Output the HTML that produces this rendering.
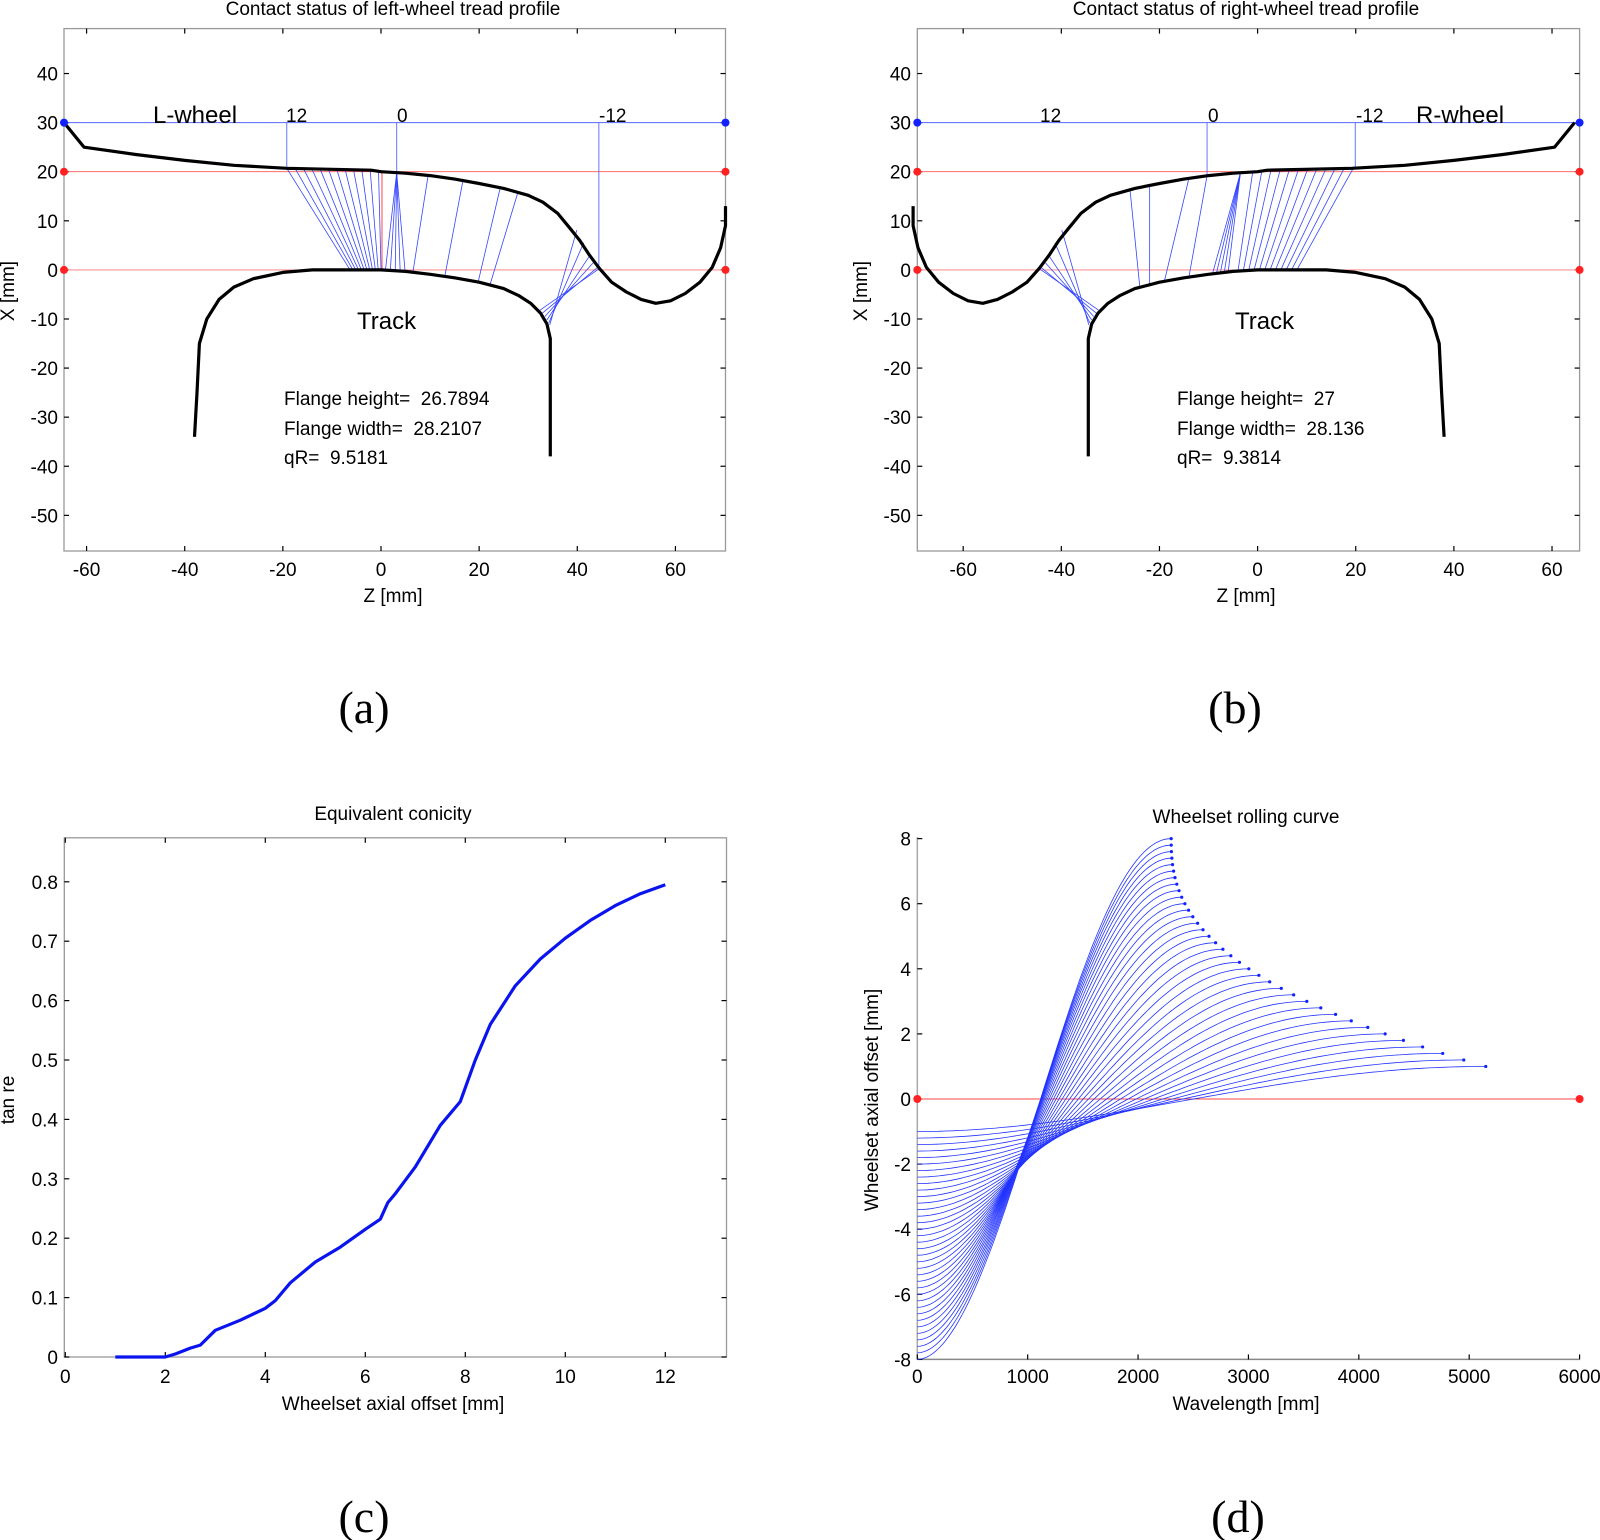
<!DOCTYPE html>
<html><head><meta charset="utf-8"><style>
body{margin:0;background:#fff}
svg{display:block}
text{font-family:"Liberation Sans",Arial,sans-serif;fill:#000}
.t{font-size:19px}
.tk{font-size:19px}
.ser{font-family:"Liberation Serif","Times New Roman",serif;font-size:46px}
</style></head><body>
<svg id="s" width="1600" height="1540" viewBox="0 0 1600 1540" xmlns="http://www.w3.org/2000/svg">
<g id="plot"></g>
<text class="t" x="393" y="15" text-anchor="middle">Contact status of left-wheel tread profile</text>
<text class="t" x="1246" y="15" text-anchor="middle">Contact status of right-wheel tread profile</text>
<text class="t" x="393" y="820" text-anchor="middle">Equivalent conicity</text>
<text class="t" x="1246" y="823" text-anchor="middle">Wheelset rolling curve</text>
<g class="tk" text-anchor="middle">
<text x="86.6" y="576">-60</text><text x="184.7" y="576">-40</text><text x="282.9" y="576">-20</text><text x="381" y="576">0</text><text x="479.1" y="576">20</text><text x="577.3" y="576">40</text><text x="675.4" y="576">60</text>
<text x="963.2" y="576">-60</text><text x="1061.3" y="576">-40</text><text x="1159.5" y="576">-20</text><text x="1257.6" y="576">0</text><text x="1355.7" y="576">20</text><text x="1453.9" y="576">40</text><text x="1552" y="576">60</text>
<text x="65.3" y="1383">0</text><text x="165.3" y="1383">2</text><text x="265.3" y="1383">4</text><text x="365.3" y="1383">6</text><text x="465.3" y="1383">8</text><text x="565.3" y="1383">10</text><text x="665.3" y="1383">12</text>
<text x="917.3" y="1383">0</text><text x="1027.7" y="1383">1000</text><text x="1138.1" y="1383">2000</text><text x="1248.4" y="1383">3000</text><text x="1358.8" y="1383">4000</text><text x="1469.2" y="1383">5000</text><text x="1579.6" y="1383">6000</text>
</g>
<g class="tk" text-anchor="end">
<text x="58" y="80.5">40</text><text x="58" y="129.6">30</text><text x="58" y="178.7">20</text><text x="58" y="227.8">10</text><text x="58" y="276.9">0</text><text x="58" y="326">-10</text><text x="58" y="375.1">-20</text><text x="58" y="424.2">-30</text><text x="58" y="473.3">-40</text><text x="58" y="522.4">-50</text>
<text x="911" y="80.5">40</text><text x="911" y="129.6">30</text><text x="911" y="178.7">20</text><text x="911" y="227.8">10</text><text x="911" y="276.9">0</text><text x="911" y="326">-10</text><text x="911" y="375.1">-20</text><text x="911" y="424.2">-30</text><text x="911" y="473.3">-40</text><text x="911" y="522.4">-50</text>
<text x="58" y="1364">0</text><text x="58" y="1304.6">0.1</text><text x="58" y="1245.2">0.2</text><text x="58" y="1185.8">0.3</text><text x="58" y="1126.4">0.4</text><text x="58" y="1067">0.5</text><text x="58" y="1007.6">0.6</text><text x="58" y="948.2">0.7</text><text x="58" y="888.8">0.8</text>
<text x="911" y="845.6">8</text><text x="911" y="910.7">6</text><text x="911" y="975.8">4</text><text x="911" y="1040.9">2</text><text x="911" y="1106">0</text><text x="911" y="1171.1">-2</text><text x="911" y="1236.2">-4</text><text x="911" y="1301.3">-6</text><text x="911" y="1366.4">-8</text>
</g>
<text class="t" x="393" y="602" text-anchor="middle">Z [mm]</text>
<text class="t" x="1246" y="602" text-anchor="middle">Z [mm]</text>
<text class="t" x="393" y="1410" text-anchor="middle">Wheelset axial offset [mm]</text>
<text class="t" x="1246" y="1410" text-anchor="middle">Wavelength [mm]</text>
<text class="t" text-anchor="middle" transform="translate(14,291) rotate(-90)">X [mm]</text>
<text class="t" text-anchor="middle" transform="translate(867,291) rotate(-90)">X [mm]</text>
<text class="t" text-anchor="middle" transform="translate(14,1100) rotate(-90)">tan re</text>
<text class="t" text-anchor="middle" transform="translate(878,1100) rotate(-90)">Wheelset axial offset [mm]</text>
<text x="153" y="123" style="font-size:24px">L-wheel</text>
<text x="286" y="122" style="font-size:19px">12</text>
<text x="397" y="122" style="font-size:19px">0</text>
<text x="599" y="122" style="font-size:19px">-12</text>
<text x="357" y="329" style="font-size:24px">Track</text>
<text x="284" y="405" style="font-size:19px">Flange height=&#160; 26.7894</text>
<text x="284" y="435" style="font-size:19px">Flange width=&#160; 28.2107</text>
<text x="284" y="464" style="font-size:19px">qR=&#160; 9.5181</text>
<text x="1416" y="123" style="font-size:24px">R-wheel</text>
<text x="1040" y="122" style="font-size:19px">12</text>
<text x="1208" y="122" style="font-size:19px">0</text>
<text x="1356" y="122" style="font-size:19px">-12</text>
<text x="1235" y="329" style="font-size:24px">Track</text>
<text x="1177" y="405" style="font-size:19px">Flange height=&#160; 27</text>
<text x="1177" y="435" style="font-size:19px">Flange width=&#160; 28.136</text>
<text x="1177" y="464" style="font-size:19px">qR=&#160; 9.3814</text>
<text class="ser" x="364" y="723" text-anchor="middle">(a)</text>
<text class="ser" x="1235" y="723" text-anchor="middle">(b)</text>
<text class="ser" x="364" y="1532" text-anchor="middle">(c)</text>
<text class="ser" x="1238" y="1532" text-anchor="middle">(d)</text>
</svg>
<script>
var NS="http://www.w3.org/2000/svg",G=document.getElementById("plot");
function el(t,a){var e=document.createElementNS(NS,t);for(var k in a)e.setAttribute(k,a[k]);G.appendChild(e);return e;}
function line(x1,y1,x2,y2,c,w){el("line",{x1:x1,y1:y1,x2:x2,y2:y2,stroke:c,"stroke-width":w});}
function poly(pts,c,w){el("polyline",{points:pts.map(function(p){return p[0].toFixed(1)+","+p[1].toFixed(1)}).join(" "),fill:"none",stroke:c,"stroke-width":w,"stroke-linejoin":"round"});}
function dot(x,y,c,r){el("circle",{cx:x,cy:y,r:r||4,fill:c});}
function box(x0,y0,x1,y1,xt,yt,full){
  if(full){el("rect",{x:x0,y:y0,width:x1-x0,height:y1-y0,fill:"none",stroke:"#999","stroke-width":1.3});}
  else{line(x0,y0,x0,y1,"#aaa",1.5);line(x0,y1,x1,y1,"#888",1.5);}
  xt.forEach(function(x){line(x,y1,x,y1-5,"#000",1.2);if(full)line(x,y0,x,y0+5,"#000",1.2);});
  yt.forEach(function(y){line(x0,y,x0+5,y,"#000",1.2);if(full)line(x1,y,x1-5,y,"#000",1.2);});
}
function interp(P,x){for(var i=0;i<P.length-1;i++){var a=P[i],b=P[i+1];if((x>=a[0]&&x<=b[0])||(x<=a[0]&&x>=b[0])){var t=(x-a[0])/((b[0]-a[0])||1);return a[1]+t*(b[1]-a[1]);}}return P[0][1];}
var wheel=[[-64.6,30],[-60.5,25],[-50,23.5],[-40,22.3],[-30,21.3],[-19.2,20.7],[-2,20.3],[0,20.0],[5,19.7],[10,19.2],[15,18.5],[20,17.6],[25,16.6],[30,15.2],[33,13.8],[36,11.5],[38.5,8.5],[40.5,6],[42.5,3],[44.5,0.3],[47,-2.5],[50,-4.5],[53,-6],[56,-6.8],[59,-6.3],[62,-4.8],[65,-2.5],[67.5,0.5],[69.2,4.5],[70.2,9],[70.2,13]];
var track=[[-38,-34],[-37.5,-25],[-37,-15],[-35.5,-10],[-33,-6],[-30,-3.5],[-26,-1.8],[-20,-0.5],[-14,0],[0,0],[5,-0.3],[10,-0.9],[15,-1.6],[20,-2.5],[25,-3.8],[28,-5.2],[30.5,-6.8],[32.5,-8.8],[33.8,-11],[34.5,-14],[34.5,-38]];
var wheelMono=wheel.slice(0,20);
function contactA(){
  var L=[];
  for(var i=0;i<12;i++){L.push([-19.2+i*(18.7/11),-6.3+i*(6.3/11)]);}
  for(var i=0;i<5;i++)L.push([3.2,0.9+i]);
  [[9.6,6.5],[16.7,13],[24.3,19.8],[27.9,22.2]].forEach(function(p){L.push(p)});
  return L;
}
// b contacts in mirrored-data coords (z = -x in panel b)
function contactB(){
  var L=[];
  // tread group: panel-b wheel x 0..20 -> track x -3..8  => mirrored coords negate
  for(var i=0;i<12;i++){var wb=-1+i*(20.5/11),tb=-4+i*(12/11);L.push([-wb,-tb]);}
  for(var i=0;i<5;i++)L.push([3.5,6+i*0.8]);
  [[10.3,14],[14,19],[22,22],[26,24]].forEach(function(p){L.push(p)});
  return L;
}
function panelAB(X0,mir,verts){
  var sx=4.907,sy=4.909,Y0=269.9,xl=mir?917.3:64,xr=mir?1579.6:725.5;
  var m=function(x){return X0+sx*(mir?-x:x)},my=function(y){return Y0-sy*y};
  var xt=[-60,-40,-20,0,20,40,60].map(function(v){return X0+sx*v});
  var yt=[40,30,20,10,0,-10,-20,-30,-40,-50].map(function(v){return Y0-sy*v});
  box(xl,28.6,xr,551,xt,yt,true);
  line(xl,my(30),xr,my(30),"#5566ff",1);
  line(xl,my(20),xr,my(20),"#ff5555",0.9);
  line(xl,my(0),xr,my(0),"#ff7777",0.9);
  (mir?contactB():contactA()).forEach(function(c){
    var wx=c[0],tx=c[1];
    var wy=interp(wheelMono,wx),ty=interp(track,tx);
    line(m(wx),my(wy),m(tx),my(ty),"#3344ff",0.8);
  });
  var fw=[[39.9,8.1],[41.3,5.5],[42.6,3],[43.2,1.4],[44,0.4],[44.4,0.2]],ft=[[32.4,-8.2],[32.9,-8.8],[33.4,-9.5],[33.8,-10.2],[34.2,-10.8],[34.4,-11.2]];
  for(var i=0;i<6;i++){line(m(fw[i][0]),my(fw[i][1]),m(ft[5-i][0]),my(ft[5-i][1]),"#3344ff",0.8);}
  if(!mir)line(m(0.2),my(20),m(0.2),my(0),"#ff4444",1);
  verts.forEach(function(vx){var wy=interp(mir?wheelMono.map(function(p){return[-p[0],p[1]]}):wheelMono,vx);line(X0+sx*vx,my(30),X0+sx*vx,my(wy),"#5566ff",0.9);});
  poly(wheel.map(function(p){return[m(p[0]),my(p[1])]}),"#000",3.2);
  poly(track.map(function(p){return[m(p[0]),my(p[1])]}),"#000",3.2);
  dot(xl,my(30),"#1122ff");dot(xr,my(30),"#1122ff");
  dot(xl,my(20),"#ff2222");dot(xr,my(20),"#ff2222");
  dot(xl,my(0),"#ff2222");dot(xr,my(0),"#ff2222");
}
panelAB(381,false,[-19.2,3.2,44.4]);
panelAB(1257.6,true,[-44.8,-10.3,19.9]);
(function(){
  var xt=[0,2,4,6,8,10,12].map(function(v){return 65.3+50*v}),yt=[0,.1,.2,.3,.4,.5,.6,.7,.8].map(function(v){return 1357-594*v});
  box(64.3,837.8,726.5,1357,xt,yt,true);
  var d=[[1,0],[2,0],[2.2,0.005],[2.5,0.015],[2.7,0.02],[3,0.045],[3.5,0.062],[4,0.082],[4.2,0.095],[4.5,0.125],[5,0.16],[5.5,0.185],[6,0.215],[6.3,0.232],[6.45,0.26],[6.6,0.275],[7,0.32],[7.5,0.39],[7.9,0.43],[8.2,0.5],[8.5,0.56],[9,0.625],[9.5,0.67],[10,0.705],[10.5,0.735],[11,0.76],[11.5,0.78],[12,0.795]];
  poly(d.map(function(p){return[65.3+50*p[0],1357-594*p[1]]}),"#0a14ee",3.2);
})();
(function(){
  var sx=0.11038,X0=917.3,Y0=1099,sy=32.55;
  var xt=[0,1000,2000,3000,4000,5000,6000].map(function(v){return X0+sx*v}),yt=[8,6,4,2,0,-2,-4,-6,-8].map(function(v){return Y0-sy*v});
  box(917.3,837,1579.6,1359.4,xt,yt,false);
  line(X0,Y0,1579.6,Y0,"#ff4444",1);
  for(var k=0;k<36;k++){
    var a=1+k*0.2,L=2300+2850*Math.pow((8-a)/7,2.5),pts=[];
    for(var j=0;j<=80;j++){var x=L*j/80,th=Math.PI*Math.pow(x/L,0.96);pts.push([X0+sx*x,Y0+sy*a*Math.cos(th)]);}
    poly(pts,"#2233ff",0.8);
    var e=pts[pts.length-1];dot(e[0],e[1],"#1122ff",1.6);
  }
  dot(X0,Y0,"#ff2222");dot(1579.6,Y0,"#ff2222");
})();
</script>
</body></html>
